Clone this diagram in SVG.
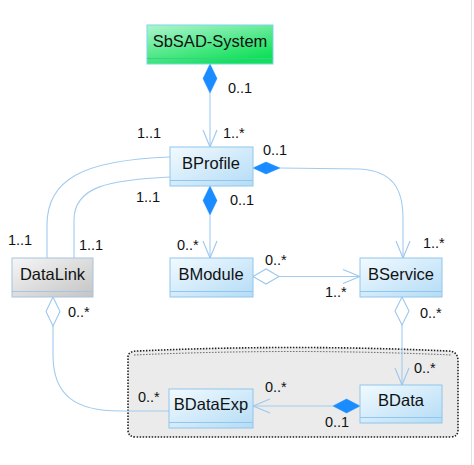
<svg xmlns="http://www.w3.org/2000/svg" width="474" height="465" viewBox="0 0 474 465">
<defs>
<linearGradient id="gBlue" x1="0" y1="0" x2="1" y2="1">
<stop offset="0" stop-color="#f2faff"/>
<stop offset="1" stop-color="#b4dcf6"/>
</linearGradient>
<linearGradient id="gGray" x1="0" y1="0" x2="1" y2="1">
<stop offset="0" stop-color="#f6f6f6"/>
<stop offset="1" stop-color="#c4c4c4"/>
</linearGradient>
<linearGradient id="gGreen" x1="0" y1="0" x2="0.6" y2="1">
<stop offset="0" stop-color="#aef5cf"/>
<stop offset="1" stop-color="#12e05a"/>
</linearGradient>
<marker id="open" viewBox="0 0 20 16" refX="18" refY="8" markerWidth="20" markerHeight="16" markerUnits="userSpaceOnUse" orient="auto">
<path d="M1,1 L18,8 L1,15" fill="none" stroke="#9cc8ee" stroke-width="1.1"/>
</marker>
</defs>
<style>
.box{fill:url(#gBlue);stroke:#92c6ec;stroke-width:1}
.sep{stroke:#92c6ec;stroke-width:1}
.name{font-family:"Liberation Sans",Arial,sans-serif;font-size:16.5px;fill:#111;text-anchor:middle}
.lbl{font-family:"Liberation Sans",Arial,sans-serif;font-size:14.5px;fill:#111}
.ln{fill:none;stroke:#a2cbee;stroke-width:1.1}
.fd{fill:#1a8cff;stroke:#1a8cff;stroke-width:0.5}
.od{fill:#fff;stroke:#9cc8ee;stroke-width:1.1}
</style>
<rect x="0" y="0" width="474" height="465" fill="#fff"/>
<line x1="471.5" y1="0" x2="471.5" y2="465" stroke="#e2e2e2" stroke-width="1"/>

<g id="package">
<path d="M128,357 Q128,351 138,351 Q293,344 448,351 Q458,351 458,361 L458,430 Q458,437 450,437 L136,437 Q128,437 128,430 Z" fill="#ebebeb" stroke="#222" stroke-width="1.6" stroke-dasharray="1.5,1.5"/>
<path d="M134,355 Q293,348 452,355" fill="none" stroke="#555" stroke-width="1" stroke-dasharray="1.5,1.5"/>
</g>

<g id="connectors">
<line class="ln" x1="210" y1="93" x2="210" y2="147" marker-end="url(#open)"/>
<polygon class="fd" points="210,64 217,78.5 210,93 203,78.5"/>
<line class="ln" x1="210" y1="215" x2="210" y2="258" marker-end="url(#open)"/>
<polygon class="fd" points="210,186 217,200.5 210,215 203,200.5"/>
<path class="ln" d="M280,168 L360,169 C392,171 403,188 403,218 L403,258" marker-end="url(#open)"/>
<polygon class="fd" points="253,168 266,162 280,168 266,174"/>
<line class="ln" x1="279" y1="276.5" x2="360" y2="276.5" marker-end="url(#open)"/>
<polygon class="od" points="253,276.5 266,269 279,276.5 266,284"/>
<line class="ln" x1="402" y1="325" x2="402" y2="385" marker-end="url(#open)"/>
<polygon class="od" points="402,297 409,311 402,325 395,311"/>
<line class="ln" x1="333" y1="406" x2="253" y2="406" marker-end="url(#open)"/>
<polygon class="fd" points="360,406 346.5,399 333,406 346.5,413"/>
<path class="ln" d="M53,326 L53,355 C53,396 76,411 120,411 L169,411"/>
<polygon class="od" points="53,297 60,311.5 53,326 46,311.5"/>
<path class="ln" d="M170,157 C82,160 47,180 47,225 L47,258"/>
<path class="ln" d="M170,177 C110,180 74,186 74,220 L74,258"/>
</g>

<g id="SbSAD-System">
<rect x="147" y="25" width="126" height="39" fill="url(#gGreen)" stroke="#7cd6e6" stroke-width="1"/>
<line x1="147" y1="58.5" x2="273" y2="58.5" stroke="#3ccf88" stroke-width="1"/>
<text class="name" x="210" y="47">SbSAD-System</text>
</g>
<g id="BProfile">
<rect class="box" x="170" y="147" width="83" height="39"/>
<line class="sep" x1="170" y1="180.5" x2="253" y2="180.5"/>
<text class="name" x="211" y="169">BProfile</text>
</g>
<g id="DataLink">
<rect x="12" y="258" width="81" height="39" fill="url(#gGray)" stroke="#a8c4de" stroke-width="1"/>
<line x1="12" y1="291.5" x2="93" y2="291.5" stroke="#a8c4de" stroke-width="1"/>
<text class="name" x="52.5" y="280">DataLink</text>
</g>
<g id="BModule">
<rect class="box" x="170" y="258" width="83" height="39"/>
<line class="sep" x1="170" y1="291.5" x2="253" y2="291.5"/>
<text class="name" x="211" y="280">BModule</text>
</g>
<g id="BService">
<rect class="box" x="360" y="258" width="82" height="39"/>
<line class="sep" x1="360" y1="291.5" x2="442" y2="291.5"/>
<text class="name" x="401" y="280">BService</text>
</g>
<g id="BDataExp">
<rect class="box" x="169" y="389" width="84" height="39"/>
<line class="sep" x1="169" y1="422.5" x2="253" y2="422.5"/>
<text class="name" x="211" y="410">BDataExp</text>
</g>
<g id="BData">
<rect class="box" x="360" y="385" width="82" height="38"/>
<line class="sep" x1="360" y1="417.5" x2="442" y2="417.5"/>
<text class="name" x="401" y="406">BData</text>
</g>

<g id="labels">
<text class="lbl" x="228" y="93">0..1</text>
<text class="lbl" x="223" y="138">1..*</text>
<text class="lbl" x="137" y="138">1..1</text>
<text class="lbl" x="263" y="155">0..1</text>
<text class="lbl" x="230" y="205">0..1</text>
<text class="lbl" x="136" y="202">1..1</text>
<text class="lbl" x="8" y="245">1..1</text>
<text class="lbl" x="79" y="250">1..1</text>
<text class="lbl" x="177" y="250">0..*</text>
<text class="lbl" x="423" y="248">1..*</text>
<text class="lbl" x="265" y="265">0..*</text>
<text class="lbl" x="325" y="297">1..*</text>
<text class="lbl" x="68" y="317">0..*</text>
<text class="lbl" x="420" y="318">0..*</text>
<text class="lbl" x="414" y="373">0..*</text>
<text class="lbl" x="265" y="392">0..*</text>
<text class="lbl" x="325" y="427">0..1</text>
<text class="lbl" x="138" y="402">0..*</text>
</g>
</svg>
